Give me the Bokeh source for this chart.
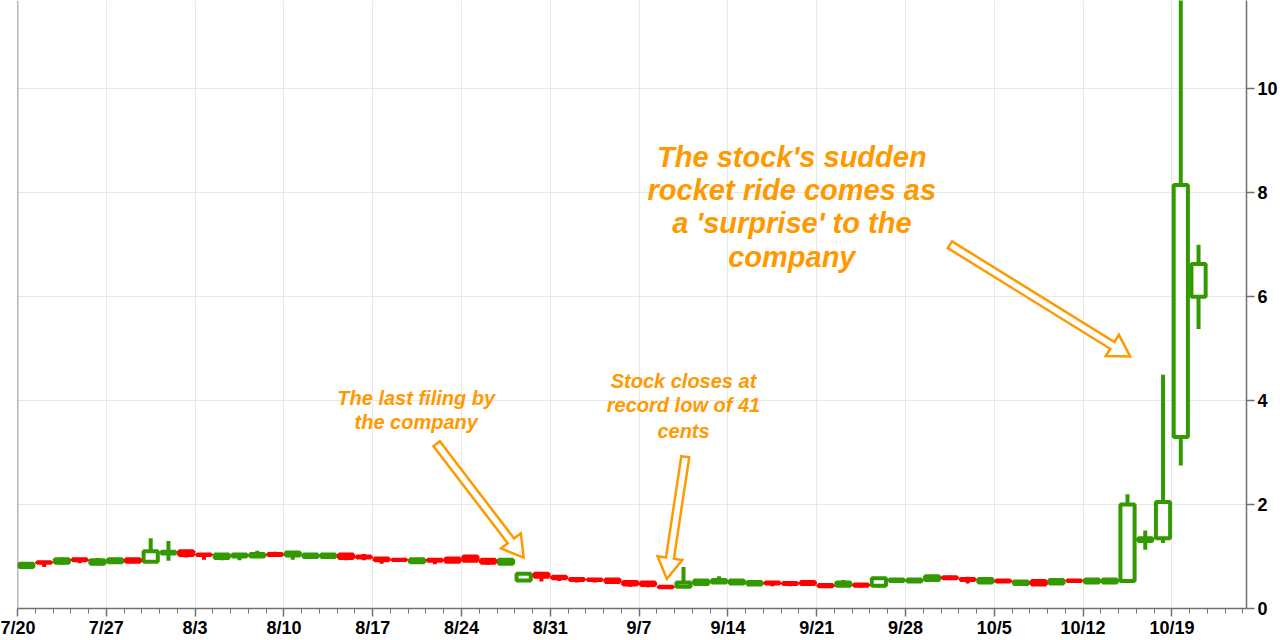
import math
from bokeh.plotting import figure
from bokeh.models import FixedTicker, Span, ColumnDataSource, Range1d
from bokeh.core.properties import value
from bokeh.embed import file_html
from bokeh.resources import INLINE

# ---- data: one candle per trading slot starting 7/20 ----
opens  = [0.80, 0.89, 0.88, 0.95, 0.86, 0.89, 0.95, 0.90, 1.06, 1.10,
          1.04, 0.97, 1.00, 1.00, 1.05, 1.02, 0.99, 0.99, 1.04, 1.00,
          0.96, 0.94, 0.89, 0.94, 0.96, 1.00, 0.94, 0.86, 0.54, 0.67,
          0.61, 0.57, 0.56, 0.56, 0.51, 0.50, 0.42, 0.42, 0.47, 0.50,
          0.48, 0.46, 0.50, 0.49, 0.51, 0.45, 0.44, 0.46, 0.44, 0.53,
          0.52, 0.55, 0.60, 0.57, 0.50, 0.54, 0.47, 0.53, 0.48, 0.54,
          0.50, 0.50, 0.53, 1.30, 1.35, 3.30, 6.00]
highs  = [0.87, 0.90, 0.98, 0.96, 0.97, 0.97, 0.97, 1.35, 1.30, 1.13,
          1.05, 1.05, 1.05, 1.11, 1.09, 1.09, 1.05, 1.05, 1.07, 1.05,
          0.96, 0.945, 0.96, 0.95, 0.97, 1.00, 0.95, 0.95, 0.70, 0.68,
          0.61, 0.58, 0.56, 0.57, 0.52, 0.50, 0.42, 0.80, 0.56, 0.62,
          0.55, 0.55, 0.51, 0.49, 0.55, 0.46, 0.55, 0.46, 0.60, 0.58,
          0.57, 0.63, 0.63, 0.61, 0.58, 0.54, 0.53, 0.53, 0.56, 0.54,
          0.56, 0.56, 2.20, 1.50, 4.50, 12.5, 7.00]
lows   = [0.79, 0.80, 0.84, 0.87, 0.83, 0.88, 0.87, 0.88, 0.92, 0.98,
          0.94, 0.93, 0.93, 0.98, 1.02, 0.94, 0.97, 0.98, 0.93, 0.93,
          0.86, 0.93, 0.88, 0.85, 0.88, 0.91, 0.84, 0.85, 0.52, 0.52,
          0.53, 0.50, 0.50, 0.47, 0.42, 0.41, 0.41, 0.40, 0.46, 0.49,
          0.47, 0.45, 0.43, 0.43, 0.46, 0.40, 0.43, 0.40, 0.40, 0.50,
          0.51, 0.54, 0.55, 0.48, 0.49, 0.52, 0.45, 0.45, 0.47, 0.53,
          0.50, 0.50, 0.50, 1.13, 1.26, 2.75, 5.38]
closes = [0.86, 0.88, 0.95, 0.93, 0.93, 0.95, 0.90, 1.10, 1.09, 1.03,
          1.03, 1.04, 1.04, 1.05, 1.03, 1.08, 1.04, 1.04, 0.97, 0.98,
          0.93, 0.935, 0.95, 0.92, 0.90, 0.92, 0.88, 0.94, 0.67, 0.61,
          0.58, 0.55, 0.55, 0.51, 0.46, 0.45, 0.41, 0.50, 0.54, 0.55,
          0.54, 0.51, 0.48, 0.47, 0.47, 0.43, 0.50, 0.44, 0.58, 0.56,
          0.56, 0.62, 0.58, 0.55, 0.57, 0.52, 0.52, 0.46, 0.55, 0.53,
          0.56, 0.56, 2.00, 1.35, 2.05, 8.15, 6.63]

week_labels = ["7/20", "7/27", "8/3", "8/10", "8/17", "8/24", "8/31",
               "9/7", "9/14", "9/21", "9/28", "10/5", "10/12", "10/19"]
days_per_week = 5
y_ticks = [0, 2, 4, 6, 8, 10]

GREEN = "#339900"
RED = "#ff0000"
ORANGE = "#ff9900"

n = len(opens)
xs = [i + 0.5 for i in range(n)]
up = [c >= o for o, c in zip(opens, closes)]

def build(flag):
    sel = [i for i in range(n) if up[i] == flag]
    return ColumnDataSource(dict(
        x=[xs[i] for i in sel],
        left=[xs[i] - 0.40 for i in sel],
        right=[xs[i] + 0.40 for i in sel],
        top=[max(opens[i], closes[i]) for i in sel],
        bottom=[min(opens[i], closes[i]) for i in sel],
        high=[highs[i] for i in sel],
        low=[lows[i] for i in sel]))

src_up = build(True)
src_dn = build(False)

X_END = 69.2
Y_END = 11.7
W, H = 1280, 640
p = figure(width=W, height=H, x_range=Range1d(0, X_END), y_range=Range1d(0, Y_END),
           y_axis_location="right", output_backend="svg", toolbar_location=None,
           min_border_left=17, min_border_right=0, min_border_top=0, min_border_bottom=0)
p.outline_line_color = None
p.background_fill_color = "white"

week_ticks = [i * days_per_week for i in range(len(week_labels))]
p.xaxis.ticker = FixedTicker(ticks=week_ticks, minor_ticks=list(range(0, 70)))
p.xaxis.major_label_overrides = {t: lab for t, lab in zip(week_ticks, week_labels)}
p.xgrid.ticker = FixedTicker(ticks=week_ticks)
p.yaxis.ticker = FixedTicker(ticks=y_ticks)
for ax in (p.xaxis[0], p.yaxis[0]):
    ax.axis_line_color = "#707070"
    ax.axis_line_width = 1.5
    ax.major_tick_line_color = "#707070"
    ax.major_tick_line_width = 1.5
    ax.major_tick_in = 0
    ax.major_tick_out = 8
    ax.major_label_text_font = "Liberation Sans"
    ax.major_label_text_font_style = "bold"
    ax.major_label_text_font_size = "18px"
    ax.major_label_text_color = "#000000"
    ax.major_label_standoff = 3
p.xaxis.major_label_standoff = 1
p.xaxis.minor_tick_line_color = "#707070"
p.xaxis.minor_tick_in = 0
p.xaxis.minor_tick_out = 5
p.yaxis.minor_tick_line_color = None
p.xgrid.grid_line_color = "#e8e8e8"
p.ygrid.grid_line_color = "#e8e8e8"
p.add_layout(Span(location=0, dimension="height", line_color="#707070", line_width=1.5))

# candles
LW = 4
p.segment("x", "high", "x", "low", source=src_up, line_color=GREEN, line_width=LW)
p.segment("x", "high", "x", "low", source=src_dn, line_color=RED, line_width=LW)
p.quad(left="left", right="right", top="top", bottom="bottom", source=src_up,
       fill_color="white", line_color=GREEN, line_width=LW)
p.quad(left="left", right="right", top="top", bottom="bottom", source=src_dn,
       fill_color=RED, line_color=RED, line_width=LW)

# annotations
FRAME_W = W - 17 - 33
FRAME_H = H - 30
sx = FRAME_W / X_END
sy = FRAME_H / Y_END

def arrow_poly(x0, y0, x1, y1, w=4.0, hw=12.5, hl=21.0):
    X0, Y0, X1, Y1 = x0 * sx, y0 * sy, x1 * sx, y1 * sy
    dx, dy = X1 - X0, Y1 - Y0
    L = math.hypot(dx, dy)
    dx, dy = dx / L, dy / L
    nx, ny = -dy, dx
    bx, by = X1 - dx * hl, Y1 - dy * hl
    pts = [(X0 + nx * w, Y0 + ny * w), (bx + nx * w, by + ny * w),
           (bx + nx * hw, by + ny * hw), (X1, Y1),
           (bx - nx * hw, by - ny * hw), (bx - nx * w, by - ny * w),
           (X0 - nx * w, Y0 - ny * w)]
    return [q[0] / sx for q in pts], [q[1] / sy for q in pts]

arrows = [(52.5, 7.00, 62.65, 4.85), (23.6, 3.17, 28.5, 0.98), (37.6, 2.92, 36.56, 0.57)]
for a in arrows:
    ax_, ay_ = arrow_poly(*a)
    p.patch(ax_, ay_, fill_color="white", line_color=ORANGE, line_width=2.5, line_join="miter")

big_lines = ["The stock's sudden", "rocket ride comes as", "a 'surprise' to the", "company"]
big_y = [8.68, 8.06, 7.42, 6.77]
p.text(x=[43.6] * 4, y=big_y, text=big_lines, text_font=value("Liberation Sans"),
       text_font_style="bold italic", text_font_size="29px", text_color=ORANGE,
       text_align="center", text_baseline="middle")

filing_lines = ["The last filing by", "the company"]
p.text(x=[22.45] * 2, y=[4.06, 3.58], text=filing_lines, text_font=value("Liberation Sans"),
       text_font_style="bold italic", text_font_size="20px", text_color=ORANGE,
       text_align="center", text_baseline="middle")

low_lines = ["Stock closes at", "record low of 41", "cents"]
p.text(x=[37.5] * 3, y=[4.38, 3.91, 3.42], text=low_lines, text_font=value("Liberation Sans"),
       text_font_style="bold italic", text_font_size="20px", text_color=ORANGE,
       text_align="center", text_baseline="middle")

open("out.html", "w").write(file_html(p, INLINE))
